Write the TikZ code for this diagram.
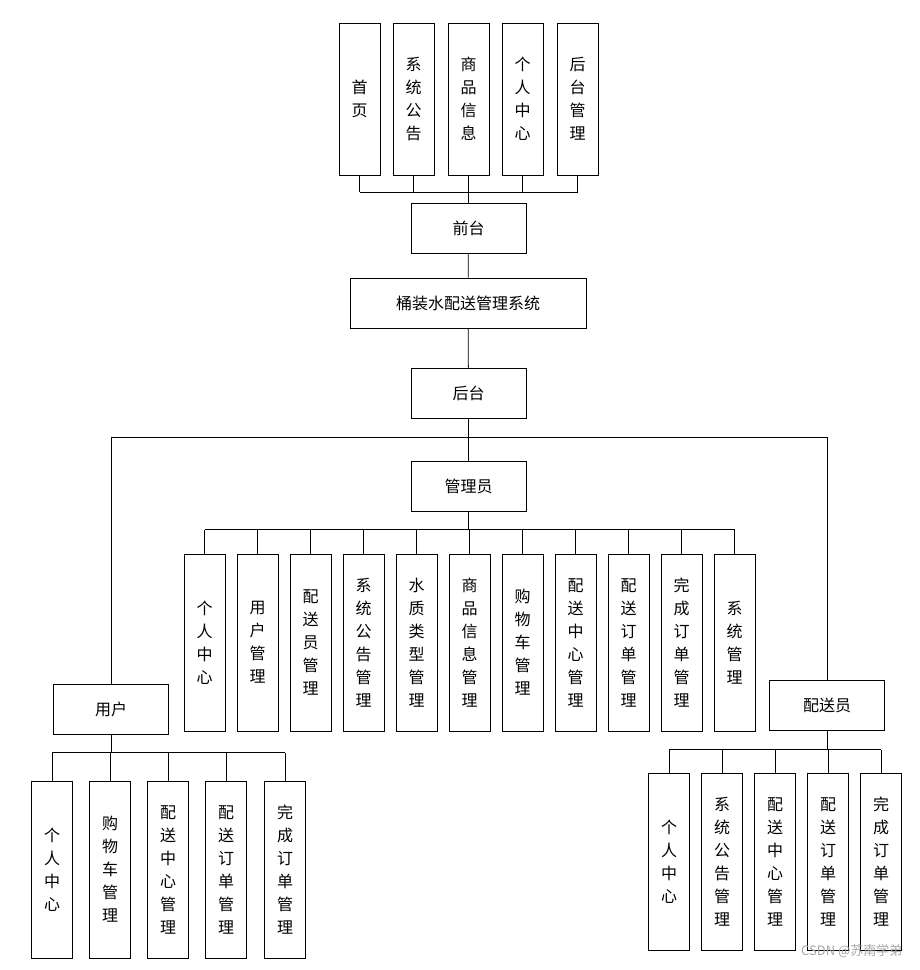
\documentclass[tikz,border=0pt]{standalone}
\usepackage{fontspec}
\newfontfamily\cjk{Noto Sans CJK SC}
\begin{document}
\begin{tikzpicture}[x=1pt,y=-1pt,
  bx/.style={draw, line width=0.8pt, inner sep=0pt, font=\cjk\fontsize{16}{23}\selectfont, align=center},
  vb/.style={bx, minimum width=41pt, minimum height=177pt},
  hb/.style={bx, minimum width=115pt, minimum height=50pt},
  ln/.style={line width=0.8pt}]
\useasboundingbox (0,0) rectangle (920,970);
% top
\foreach \n/\x/\t in {t1/359.5/首\\页, t2/413.5/系\\统\\公\\告, t3/468.5/商\\品\\信\\息, t4/522.5/个\\人\\中\\心, t5/577.5/后\\台\\管\\理}
  \node[bx, minimum width=41pt, minimum height=152pt] (\n) at (\x,99) {\t};
\node[hb] (qt) at (468.5,228) {前台};
\node[bx, minimum width=236pt, minimum height=50pt] (sys) at (468,303) {桶装水配送管理系统};
\node[hb] (ht) at (468.5,393) {后台};
\node[hb] (adm) at (468.5,486) {管理员};
\node[hb] (usr) at (111,709) {用户};
\node[hb] (ps) at (827,705) {配送员};
\foreach \n in {t1,t2,t3,t4,t5} \draw[ln] (\n.south) -- (\n.south |- 0,192);
\draw[ln] (t1.south |- 0,192) -- (t5.south |- 0,192);
\draw[ln] (qt.north) -- (qt.north |- 0,192);
\draw[ln] (qt) -- (sys);
\draw[ln] (sys) -- (ht);
\draw[ln] (ht) -- (adm);
\coordinate (bl) at (111,437); \coordinate (br) at (827,437);
\draw[ln] (usr.north) -- (bl) -- (br) -- (ps.north);
% admin children
\foreach \i/\t in {0/个\\人\\中\\心, 1/用\\户\\管\\理, 2/配\\送\\员\\管\\理, 3/系\\统\\公\\告\\管\\理, 4/水\\质\\类\\型\\管\\理, 5/商\\品\\信\\息\\管\\理, 6/购\\物\\车\\管\\理, 7/配\\送\\中\\心\\管\\理, 8/配\\送\\订\\单\\管\\理, 9/完\\成\\订\\单\\管\\理, 10/系\\统\\管\\理}{
  \node[vb] (a\i) at ({204.5+53*\i},642.5) {\t};
  \draw[ln] (a\i.north) -- ++(0,-24);
}
\draw[ln] (a0.north) ++(0,-24) -- ([yshift=24pt]a10.north);
\draw[ln] (adm.south) -- (adm.south |- 0,530);
% user children
\foreach \i/\x/\t in {0/52/个\\人\\中\\心, 1/110/购\\物\\车\\管\\理, 2/168/配\\送\\中\\心\\管\\理, 3/226/配\\送\\订\\单\\管\\理, 4/285/完\\成\\订\\单\\管\\理}{
  \node[vb] (u\i) at (\x,869.5) {\t};
  \draw[ln] (u\i.north) -- ++(0,-28);
}
\draw[ln] ([yshift=28pt]u0.north) -- ([yshift=28pt]u4.north);
\draw[ln] (usr.south) -- (usr.south |- 0,753);
% courier children
\foreach \i/\x/\t in {0/669/个\\人\\中\\心, 1/722/系\\统\\公\\告\\管\\理, 2/775/配\\送\\中\\心\\管\\理, 3/828/配\\送\\订\\单\\管\\理, 4/881/完\\成\\订\\单\\管\\理}{
  \node[vb] (p\i) at (\x,861.5) {\t};
  \draw[ln] (p\i.north) -- ++(0,-23);
}
\draw[ln] ([yshift=23pt]p0.north) -- ([yshift=23pt]p4.north);
\draw[ln] (ps.south) -- (ps.south |- 0,750);
\node[text=gray!70, font=\fontspec{Noto Sans CJK SC}\fontsize{13}{15}\selectfont, anchor=east] (wm) at (906,951) {CSDN @苏南学弟};
\end{tikzpicture}
\end{document}
